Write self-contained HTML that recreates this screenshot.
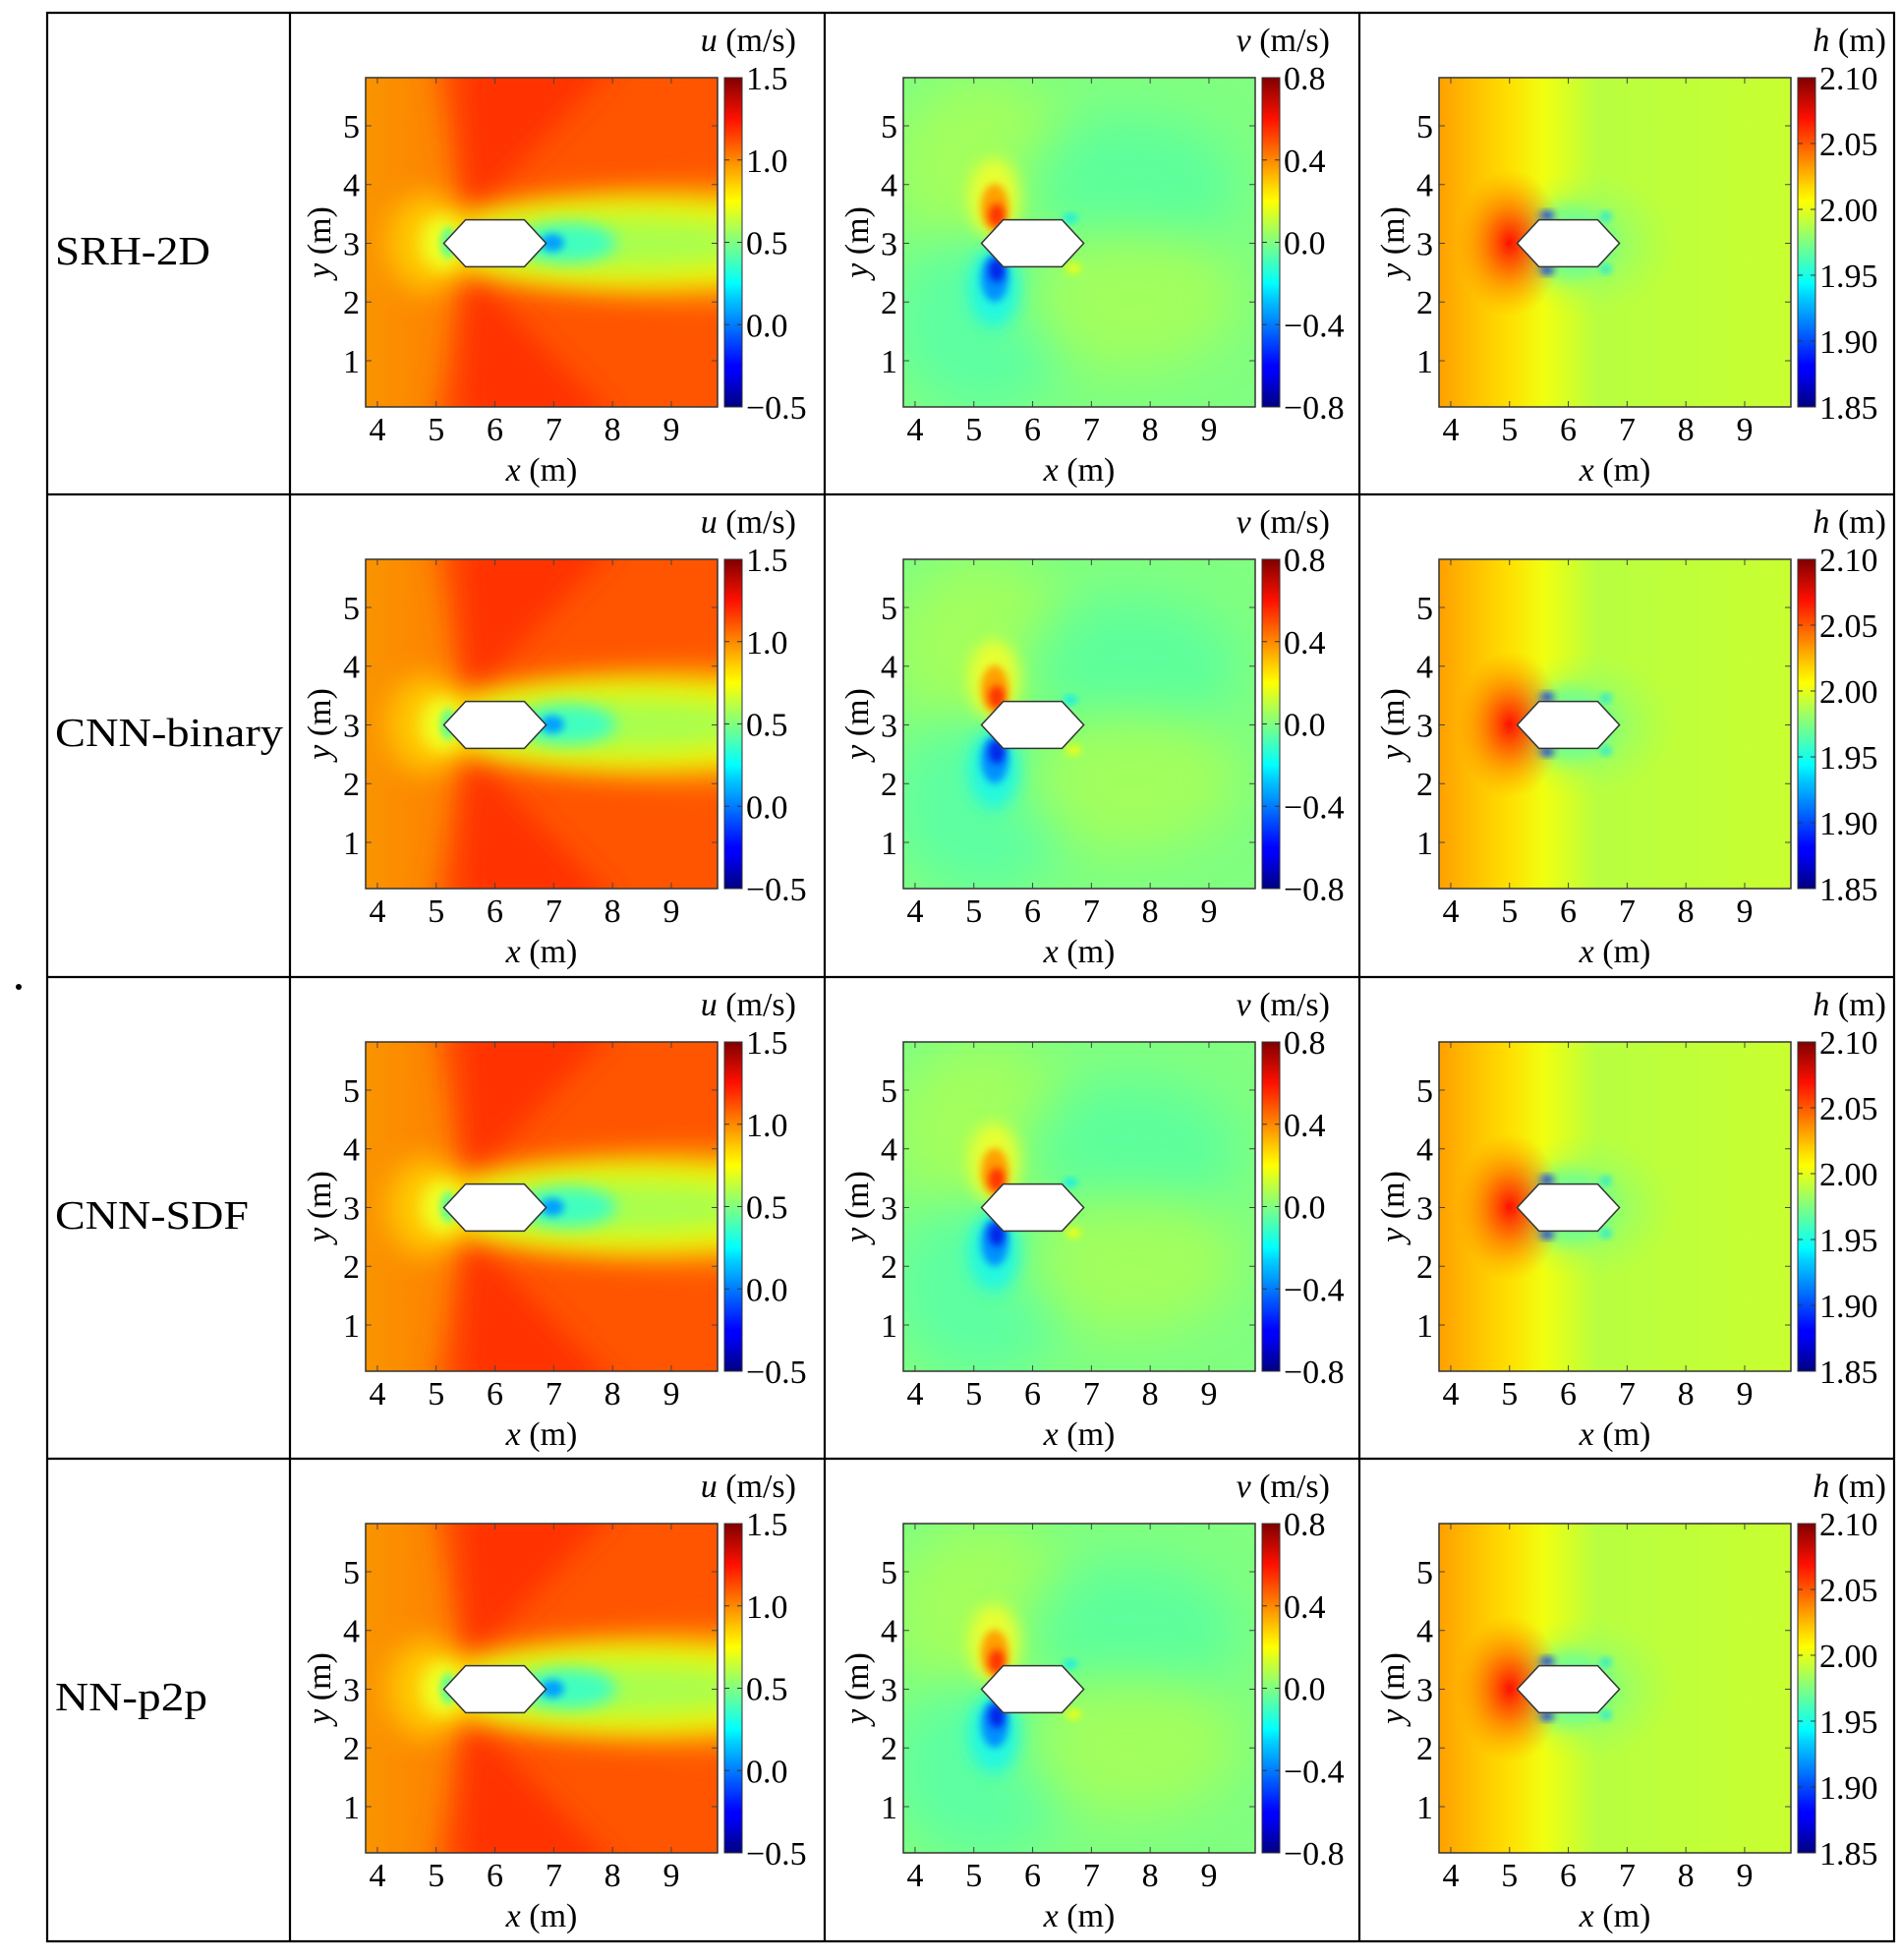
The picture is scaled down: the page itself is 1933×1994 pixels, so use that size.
<!DOCTYPE html>
<html><head><meta charset="utf-8"><style>
html,body{margin:0;padding:0;background:#fff;}
svg{display:block;font-family:"Liberation Serif",serif;}
</style></head><body>
<svg id="s" width="1933" height="1994" xmlns="http://www.w3.org/2000/svg">
<defs>
<linearGradient id="jet" x1="0" y1="1" x2="0" y2="0">
<stop offset="0" stop-color="#000080"/><stop offset="0.11" stop-color="#0000ff"/><stop offset="0.125" stop-color="#0000ff"/>
<stop offset="0.34" stop-color="#00d4ff"/><stop offset="0.375" stop-color="#00ffff"/><stop offset="0.5" stop-color="#80ff80"/>
<stop offset="0.625" stop-color="#ffff00"/><stop offset="0.66" stop-color="#ffe000"/><stop offset="0.875" stop-color="#ff1000"/><stop offset="1" stop-color="#800000"/>
</linearGradient>
<linearGradient id="ubase" x1="0" y1="0" x2="1" y2="0">
<stop offset="0" stop-color="#fa9400"/><stop offset="0.3" stop-color="#ff7c00"/><stop offset="1" stop-color="#ff6000"/>
</linearGradient>
<linearGradient id="hbase" x1="0" y1="0" x2="1" y2="0">
<stop offset="0" stop-color="#ffa000"/><stop offset="0.2" stop-color="#ffe000"/><stop offset="0.3" stop-color="#f0ff10"/><stop offset="0.45" stop-color="#b8ff40"/><stop offset="1" stop-color="#c8ff30"/>
</linearGradient>
<radialGradient id="hred"><stop offset="0" stop-color="#ff1000"/><stop offset="0.35" stop-color="#ff5000" stop-opacity="0.8"/><stop offset="1" stop-color="#ff9000" stop-opacity="0"/></radialGradient>
<radialGradient id="hgrn"><stop offset="0" stop-color="#70ff90"/><stop offset="1" stop-color="#a0ff60" stop-opacity="0"/></radialGradient>
<filter id="b4" x="-50%" y="-50%" width="200%" height="200%"><feGaussianBlur stdDeviation="4"/></filter>
<filter id="b8" x="-50%" y="-50%" width="200%" height="200%"><feGaussianBlur stdDeviation="8"/></filter>
<filter id="b14" x="-50%" y="-50%" width="200%" height="200%"><feGaussianBlur stdDeviation="14"/></filter>
<filter id="b25" x="-50%" y="-50%" width="200%" height="200%"><feGaussianBlur stdDeviation="25"/></filter>
<clipPath id="cp"><rect x="0" y="0" width="358" height="335"/></clipPath>
</defs>
</svg>
<script>
const S=document.getElementById('s');
let out='';
const W=358,H=335;
const X=x=>(x-3.8)*59.8, Y=y=>(5.82-y)*59.75;
const hex=`${X(5.13)},${Y(3)} ${X(5.5)},${Y(3.4)} ${X(6.5)},${Y(3.4)} ${X(6.87)},${Y(3)} ${X(6.5)},${Y(2.6)} ${X(5.5)},${Y(2.6)}`;
function field(t){
 let s='';
 if(t=='u'){
  s+=`<rect width="${W}" height="${H}" fill="url(#ubase)"/>`;
  s+=`<polygon points="104,142 70,-20 390,-20 390,90" fill="#ff5400" filter="url(#b14)"/>`;
  s+=`<polygon points="104,194 70,355 390,355 390,245" fill="#ff5400" filter="url(#b14)"/>`;
  s+=`<polygon points="104,142 95,-20 260,-20" fill="#ff3000" filter="url(#b14)"/>`;
  s+=`<polygon points="104,194 95,355 260,355" fill="#ff3000" filter="url(#b14)"/>`;
  s+=`<ellipse cx="300" cy="168" rx="240" ry="50" fill="#f4f400" filter="url(#b14)"/>`;
  s+=`<ellipse cx="62" cy="168" rx="40" ry="50" fill="#ffc800" filter="url(#b14)"/>`;
  s+=`<ellipse cx="78" cy="168" rx="22" ry="28" fill="#f0ff20" filter="url(#b8)"/>`;
  s+=`<ellipse cx="260" cy="168" rx="150" ry="28" fill="#a8ff50" filter="url(#b14)"/>`;
  s+=`<ellipse cx="205" cy="168" rx="50" ry="20" fill="#40ffc0" filter="url(#b8)"/>`;
  s+=`<ellipse cx="190" cy="168" rx="12" ry="9" fill="#00a0ff" filter="url(#b4)"/>`;
  s+=`<ellipse cx="84" cy="168" rx="8" ry="16" fill="#60ff90" filter="url(#b4)"/>`;
 } else if(t=='v'){
  s+=`<rect width="${W}" height="${H}" fill="#80ff80"/>`;
  s+=`<ellipse cx="80" cy="90" rx="90" ry="90" fill="#b0ff50" opacity="0.7" filter="url(#b25)"/>`;
  s+=`<ellipse cx="80" cy="250" rx="90" ry="90" fill="#50ffb0" opacity="0.7" filter="url(#b25)"/>`;
  s+=`<ellipse cx="230" cy="110" rx="110" ry="70" fill="#50ffa8" opacity="0.7" filter="url(#b25)"/>`;
  s+=`<ellipse cx="230" cy="225" rx="110" ry="70" fill="#b0ff50" opacity="0.7" filter="url(#b25)"/>`;
  s+=`<ellipse cx="92" cy="122" rx="26" ry="40" fill="#e8ff30" filter="url(#b8)"/>`;
  s+=`<ellipse cx="93" cy="132" rx="14" ry="24" fill="#ffa000" filter="url(#b4)"/>`;
  s+=`<ellipse cx="95" cy="140" rx="8" ry="12" fill="#ff3000" filter="url(#b4)"/>`;
  s+=`<ellipse cx="92" cy="214" rx="26" ry="40" fill="#20f8e0" filter="url(#b8)"/>`;
  s+=`<ellipse cx="93" cy="204" rx="14" ry="24" fill="#0090ff" filter="url(#b4)"/>`;
  s+=`<ellipse cx="95" cy="196" rx="8" ry="12" fill="#0020e8" filter="url(#b4)"/>`;
  s+=`<ellipse cx="170" cy="143" rx="7" ry="4" fill="#00e8ff" filter="url(#b4)"/>`;
  s+=`<ellipse cx="173" cy="194" rx="8" ry="5" fill="#f0ff10" filter="url(#b4)"/>`;
 } else {
  s+=`<rect width="${W}" height="${H}" fill="url(#hbase)"/>`;
  s+=`<ellipse cx="150" cy="168" rx="90" ry="75" fill="url(#hgrn)"/>`;
  s+=`<ellipse cx="130" cy="168" rx="45" ry="38" fill="#60ffa0" filter="url(#b8)" opacity="0.7"/>`;
  s+=`<ellipse cx="72" cy="168" rx="55" ry="75" fill="url(#hred)"/>`;
  s+=`<ellipse cx="110" cy="140" rx="7" ry="4" fill="#0030ff" filter="url(#b4)"/>`;
  s+=`<ellipse cx="110" cy="196" rx="7" ry="4" fill="#0030ff" filter="url(#b4)"/>`;
  s+=`<ellipse cx="170" cy="141" rx="5" ry="4" fill="#00e0ff" filter="url(#b4)"/>`;
  s+=`<ellipse cx="170" cy="195" rx="5" ry="4" fill="#00e0ff" filter="url(#b4)"/>`;
 }
 s+=`<polygon points="${hex}" fill="#fff" stroke="#333" stroke-width="1.5"/>`;
 return s;
}
const cfg={
 u:{title:'u',unit:' (m/s)',ticks:['1.5','1.0','0.5','0.0','\u22120.5'],tr:55},
 v:{title:'v',unit:' (m/s)',ticks:['0.8','0.4','0.0','\u22120.4','\u22120.8'],tr:51},
 h:{title:'h',unit:' (m)',ticks:['2.10','2.05','2.00','1.95','1.90','1.85'],tr:72}
};
function plot(px,py,t){
 const c=cfg[t];
 let s=`<g transform="translate(${px},${py})"><g clip-path="url(#cp)">${field(t)}</g>`;
 for(let i=4;i<=9;i++){const x=X(i);s+=`<line x1="${x}" y1="${H}" x2="${x}" y2="${H-6}" stroke="#444" stroke-width="1"/><line x1="${x}" y1="0" x2="${x}" y2="6" stroke="#444" stroke-width="1"/>`;
  s+=`<text x="${x}" y="${H+34}" font-size="34" text-anchor="middle">${i}</text>`;}
 for(let i=1;i<=5;i++){const y=Y(i);s+=`<line x1="0" y1="${y}" x2="6" y2="${y}" stroke="#444"/><line x1="${W}" y1="${y}" x2="${W-6}" y2="${y}" stroke="#444"/>`;
  s+=`<text x="-6" y="${y+12}" font-size="34" text-anchor="end">${i}</text>`;}
 s+=`<rect x="0" y="0" width="${W}" height="${H}" fill="none" stroke="#333" stroke-width="1.5"/>`;
 s+=`<text x="${W/2}" y="${H+75}" font-size="34" text-anchor="middle"><tspan font-style="italic">x</tspan> (m)</text>`;
 s+=`<text transform="translate(-36,${H/2}) rotate(-90)" font-size="34" text-anchor="middle"><tspan font-style="italic">y</tspan> (m)</text>`;
 const cx=W+7,cw=18;
 s+=`<rect x="${cx}" y="0" width="${cw}" height="${H}" fill="url(#jet)" stroke="#333" stroke-width="1"/>`;
 const n=c.ticks.length;
 c.ticks.forEach((tk,i)=>{const y=i*H/(n-1);
  s+=`<line x1="${cx}" y1="${y}" x2="${cx+5}" y2="${y}" stroke="#333"/><line x1="${cx+cw}" y1="${y}" x2="${cx+cw-5}" y2="${y}" stroke="#333"/>`;
  s+=`<text x="${cx+cw+4}" y="${y+12}" font-size="34">${tk}</text>`;});
 s+=`<text x="${cx+cw+c.tr}" y="${-27}" font-size="34" text-anchor="end"><tspan font-style="italic">${c.title}</tspan>${c.unit}</text>`;
 s+='</g>';
 return s;
}
const rows=[13,503,994,1484], labels=['SRH-2D','CNN-binary','CNN-SDF','NN-p2p'];
const cols=[[372,'u'],[919,'v'],[1464,'h']];
rows.forEach((r,i)=>{
 out+=`<text x="56" y="${r+256}" font-size="41" textLength="${[158,232,197,155][i]}" lengthAdjust="spacingAndGlyphs">${labels[i]}</text>`;
 cols.forEach(([x,t])=>{out+=plot(x,r+66,t);});
});
[48,295,839,1383,1927].forEach(x=>out+=`<line x1="${x}" y1="12" x2="${x}" y2="1976" stroke="#000" stroke-width="2.2"/>`);
[13,503,994,1484,1975].forEach(y=>out+=`<line x1="47" y1="${y}" x2="1928" y2="${y}" stroke="#000" stroke-width="2.2"/>`);
out+=`<circle cx="19" cy="1004" r="3" fill="#000"/>`;
S.insertAdjacentHTML('beforeend',out);
</script>
</body></html>
